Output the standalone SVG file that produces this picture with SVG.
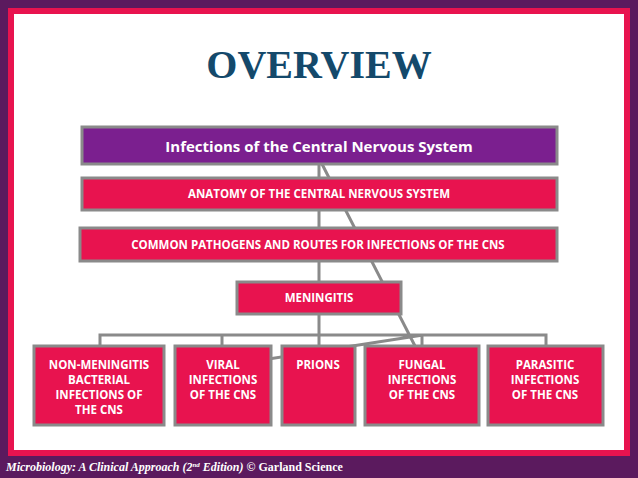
<svg xmlns="http://www.w3.org/2000/svg" width="638" height="478" viewBox="0 0 638 478">
<style>
.b{fill:#e8134f;stroke:#8a8a8a;stroke-width:3}
.t{font-family:"Open Sans","Liberation Sans",sans-serif;font-weight:bold;fill:#fff;font-size:11.5px;text-anchor:middle}
.c{stroke:#8a8a8a;stroke-width:3;fill:none}
</style>
<rect width="638" height="478" fill="#5b1a5e"/>
<rect x="8" y="8" width="622" height="448" fill="#e8134f"/>
<rect x="14" y="14" width="610" height="436" fill="#fff"/>
<text x="319" y="78" font-family="Liberation Serif,serif" font-weight="bold" font-size="40" fill="#14496b" text-anchor="middle">OVERVIEW</text>
<g id="connectors">
<path class="c" d="M319 164V346M100 346V335H546V346M222 335V346M422 335V346M322 164L415 346M185 372L423 335"/>
</g>
<g id="top"><rect class="b" x="82" y="127" width="475" height="37" style="fill:#7b1f8f"/><text class="t" x="319" y="152" style="font-size:15px">Infections of the Central Nervous System</text></g>
<g id="anatomy"><rect class="b" x="82" y="178" width="475" height="32"/><text class="t" x="319" y="198">ANATOMY OF THE CENTRAL NERVOUS SYSTEM</text></g>
<g id="common"><rect class="b" x="80" y="228" width="477" height="33"/><text class="t" x="318" y="249">COMMON PATHOGENS AND ROUTES FOR INFECTIONS OF THE CNS</text></g>
<g id="meningitis"><rect class="b" x="237" y="282" width="164" height="32"/><text class="t" x="319" y="302">MENINGITIS</text></g>
<g id="nonmen"><rect class="b" x="34" y="346" width="130" height="79"/><text class="t" x="99" y="369">NON-MENINGITIS</text><text class="t" x="99" y="384">BACTERIAL</text><text class="t" x="99" y="399">INFECTIONS OF</text><text class="t" x="99" y="414">THE CNS</text></g>
<g id="viral"><rect class="b" x="175" y="346" width="96" height="79"/><text class="t" x="223" y="369">VIRAL</text><text class="t" x="223" y="384">INFECTIONS</text><text class="t" x="223" y="399">OF THE CNS</text></g>
<g id="prions"><rect class="b" x="282" y="346" width="73" height="79"/><text class="t" x="318" y="369">PRIONS</text></g>
<g id="fungal"><rect class="b" x="365" y="346" width="114" height="79"/><text class="t" x="422" y="369">FUNGAL</text><text class="t" x="422" y="384">INFECTIONS</text><text class="t" x="422" y="399">OF THE CNS</text></g>
<g id="parasitic"><rect class="b" x="488" y="346" width="115" height="79"/><text class="t" x="545" y="369">PARASITIC</text><text class="t" x="545" y="384">INFECTIONS</text><text class="t" x="545" y="399">OF THE CNS</text></g>
<text x="6" y="471" font-family="Liberation Serif,serif" font-weight="bold" font-size="12" fill="#fff"><tspan font-style="italic">Microbiology: A Clinical Approach (2<tspan font-size="7" dy="-4">nd</tspan><tspan dy="4"> Edition)</tspan></tspan> © Garland Science</text>
</svg>
